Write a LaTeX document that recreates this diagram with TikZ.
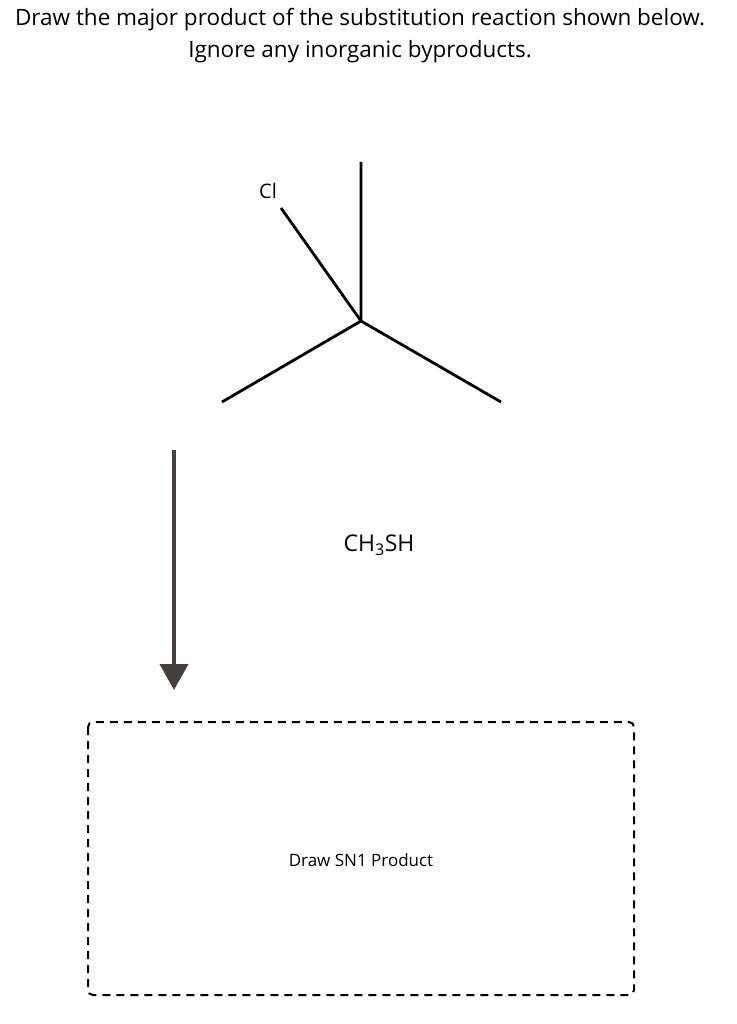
\documentclass[tikz,border=0pt]{standalone}
\usepackage{fontspec}
\setmainfont{Open Sans}
\usetikzlibrary{arrows.meta}
\begin{document}
\begin{tikzpicture}[x=1pt,y=-1pt,
  bond/.style={line width=2.8pt},
  lbl/.style={inner sep=0pt,font=\fontsize{22.5}{26}\selectfont}]
\useasboundingbox (0,0) rectangle (736,1024);
\node[lbl] (t1) at (360,20) {Draw the major product of the substitution reaction shown below.};
\node[lbl] (t2) at (360,52) {Ignore any inorganic byproducts.};
\coordinate (c) at (361,321);
\coordinate (top) at (361,162);
\coordinate (l) at (222,402);
\coordinate (r) at (501,402);
\coordinate (clb) at (281,208);
\node[lbl,font=\fontsize{20}{24}\selectfont] (cl) at (268,191) {Cl};
\draw[bond] (top) -- (c) -- (l);
\draw[bond] (c) -- (r);
\draw[bond] (clb) -- (c);
\coordinate (a1) at (174,450);
\coordinate (a2) at (174,690);
\draw[line width=4pt,color={rgb,255:red,69;green,64;blue,61},-{Triangle[length=26pt,width=28pt]}] (a1) -- (a2);
\node[lbl,font=\fontsize{23}{26}\selectfont] (reag) at (379,545) {CH\textsubscript{3}SH};
\draw[line width=2pt,dashed,dash pattern=on 8pt off 6pt,rounded corners=5pt] (88,722) rectangle (634,995);
\node[inner sep=0pt,font=\fontsize{17}{20}\selectfont] (p) at (361,860) {Draw SN1 Product};
\end{tikzpicture}
\end{document}
